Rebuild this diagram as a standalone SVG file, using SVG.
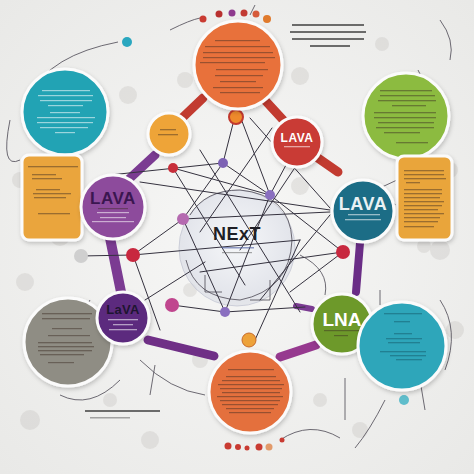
<svg xmlns="http://www.w3.org/2000/svg" width="474" height="474" viewBox="0 0 474 474">
<defs>
<radialGradient id="bg" cx="50%" cy="50%" r="70%"><stop offset="0" stop-color="#f7f7f6"/><stop offset="1" stop-color="#e9e9e7"/></radialGradient>
<radialGradient id="ctr" cx="50%" cy="45%" r="55%"><stop offset="0" stop-color="#f6f7f9"/><stop offset="0.8" stop-color="#e4e6ec"/><stop offset="1" stop-color="#d6d9e2" stop-opacity="0.5"/></radialGradient>
<filter id="sh" x="-20%" y="-20%" width="140%" height="140%"><feDropShadow dx="1" dy="2" stdDeviation="2" flood-color="#000" flood-opacity="0.2"/></filter>
</defs>
<style>
.node{stroke:#fbfbfb;stroke-width:3;filter:url(#sh)}
.net{stroke:#35323f;stroke-width:1;fill:none;stroke-linecap:round}
.thin{stroke:#4a4652;stroke-width:0.8;fill:none}
.bar{fill:none;stroke-linecap:round}
.tl{fill:#3a2a22;opacity:0.45}
.tw{fill:#fff;opacity:0.55}
.blob{fill:#b9b8b2;opacity:0.28}
.lbl{font-family:"Liberation Sans","DejaVu Sans",sans-serif;font-weight:bold;text-anchor:middle}
</style>
<rect width="474" height="474" fill="url(#bg)"/>
<g id="background-blobs">
<circle class="blob" cx="60" cy="236" r="10"/><circle class="blob" cx="25" cy="282" r="9"/><circle class="blob" cx="440" cy="250" r="10"/><circle class="blob" cx="424" cy="246" r="7"/>
<circle class="blob" cx="300" cy="76" r="9"/><circle class="blob" cx="185" cy="80" r="8"/><circle class="blob" cx="382" cy="44" r="7"/><circle class="blob" cx="300" cy="186" r="9"/>
<circle class="blob" cx="200" cy="360" r="8"/><circle class="blob" cx="450" cy="170" r="8"/><circle class="blob" cx="30" cy="420" r="10"/><circle class="blob" cx="455" cy="330" r="9"/>
<circle class="blob" cx="150" cy="440" r="9"/><circle class="blob" cx="360" cy="430" r="8"/><circle class="blob" cx="20" cy="180" r="8"/><circle class="blob" cx="128" cy="95" r="9"/>
<circle class="blob" cx="190" cy="290" r="7"/><circle class="blob" cx="320" cy="400" r="7"/><circle class="blob" cx="110" cy="400" r="7"/>
</g>
<g id="connectors">
<circle cx="237" cy="248" r="58" fill="url(#ctr)" stroke="#c4c7d3" stroke-width="0.8"/>
<path class="thin" d="M190 215 Q205 190 240 190 Q290 195 292 240 Q290 290 240 300 Q195 298 186 260"/>
<path class="thin" d="M205 275 L205 292 L222 292 M270 280 L270 300 L250 300"/>
<path class="bar" stroke="#c23b30" stroke-width="9" d="M203 98 L180 120"/>
<path class="bar" stroke="#c23b30" stroke-width="9" d="M262 97 L285 122"/>
<path class="bar" stroke="#c23b30" stroke-width="9" d="M315 156 L338 172"/>
<path class="bar" stroke="#7b3b92" stroke-width="9" d="M128 180 L155 155"/>
<path class="bar" stroke="#7b3b92" stroke-width="10" d="M110 238 L121 292"/>
<path class="bar" stroke="#6f2f86" stroke-width="9" d="M148 340 L214 356"/>
<path class="bar" stroke="#96398f" stroke-width="9" d="M280 357 L316 345"/>
<path class="bar" stroke="#6a2d86" stroke-width="8" d="M360 243 L356 292"/>
<path class="bar" stroke="#7b3b92" stroke-width="6" d="M296 306 L312 309"/>
<path class="net" d="M237 108 L223 163 M237 108 L270 195 M223 163 L183 219 M223 163 L270 195 M173 168 L270 195 M173 168 L245 285 M140 182 L330 210 M183 219 L330 212 M183 219 L133 255 M133 255 L81 256 M133 255 L300 240 M270 195 L343 252 M270 195 L225 312 M272 128 L200 232 M300 160 L240 250 M225 312 L172 305 M225 312 L305 307 M343 252 L290 292 M183 219 L225 312 M250 118 L330 208 M200 150 L300 312 M133 255 L160 330 M200 272 L343 252 M110 175 L223 163 M270 195 L310 120 M145 300 L205 262 M255 340 L300 240 M330 215 L260 300"/>
<path class="thin" d="M30 95 Q50 55 118 42 M10 120 Q0 170 20 160 M418 70 Q440 110 430 150 M90 300 Q65 340 85 380 M440 300 Q460 330 445 370 M170 30 Q190 20 200 18 M255 5 L250 15 M380 305 L380 290 M300 255 Q330 270 325 295 M60 395 Q90 410 120 380 M280 440 Q310 420 340 438 M385 400 Q370 430 355 448 M440 20 Q455 40 450 60 M420 380 L425 410 M345 378 L345 420 M140 360 Q170 390 205 395 M155 365 L150 395"/>
<path class="thin" stroke-width="1.2" d="M382 187 L397 180 M383 200 L397 205"/>
<rect x="46" y="144" width="5" height="8" fill="#223"/><rect x="65" y="144" width="5" height="8" fill="#223"/>
</g>
<g id="net-dots">
<circle cx="236" cy="117" r="7" fill="#ee8a2c" stroke="#c2382e" stroke-width="2"/>
<circle cx="173" cy="168" r="5" fill="#c72e3a"/>
<circle cx="223" cy="163" r="5" fill="#7d62b4"/>
<circle cx="183" cy="219" r="6" fill="#b56ab0"/>
<circle cx="270" cy="195" r="5" fill="#8a6fc0"/>
<circle cx="133" cy="255" r="7" fill="#c8283f"/>
<circle cx="81" cy="256" r="7" fill="#cfcfcf"/>
<circle cx="343" cy="252" r="7" fill="#c8283f"/>
<circle cx="225" cy="312" r="5" fill="#8a6fc0"/>
<circle cx="172" cy="305" r="7" fill="#c0468e"/>
<circle cx="249" cy="340" r="7" fill="#eda23a" stroke="#c86a2a" stroke-width="1"/>
<circle cx="127" cy="42" r="5" fill="#2aa7bf"/>
<circle cx="404" cy="400" r="5" fill="#3bb0c3" opacity="0.8"/>
</g>
<g id="top-dots">
<circle cx="203" cy="19" r="3.5" fill="#c93b32"/><circle cx="219" cy="14" r="3.5" fill="#b8302f"/><circle cx="232" cy="13" r="3.5" fill="#8e3a8e"/><circle cx="244" cy="13" r="3.5" fill="#c23a33"/><circle cx="256" cy="14" r="3.5" fill="#d65a3a"/><circle cx="267" cy="19" r="4" fill="#e07a2c"/>
</g>
<g id="bottom-dots">
<circle cx="228" cy="446" r="3.5" fill="#c93b32"/><circle cx="238" cy="447" r="3" fill="#c93b32"/><circle cx="247" cy="448" r="2.5" fill="#c93b32"/><circle cx="259" cy="447" r="3.5" fill="#c93b32"/><circle cx="269" cy="447" r="3.5" fill="#e29a6a"/><circle cx="282" cy="440" r="2.5" fill="#c93b32"/>
</g>
<g id="node-top-orange">
<circle class="node" cx="238" cy="65" r="44" fill="#e8713a"/>
<rect class="tl" x="215" y="40" width="45" height="1.2"/><rect class="tl" x="205" y="46" width="65" height="1.2"/><rect class="tl" x="203" y="52" width="70" height="1.2"/><rect class="tl" x="203" y="57" width="72" height="1.2"/><rect class="tl" x="200" y="62" width="65" height="1.2"/><rect class="tl" x="216" y="69" width="52" height="1.2"/><rect class="tl" x="215" y="75" width="48" height="1.2"/><rect class="tl" x="220" y="81" width="36" height="1.2"/><rect class="tl" x="213" y="87" width="50" height="1.2"/><rect class="tl" x="220" y="92" width="40" height="1.2"/>
</g>
<g id="text-top-right">
<rect x="292" y="24" width="72" height="2" fill="#333" opacity="0.7"/><rect x="290" y="31" width="76" height="2" fill="#333" opacity="0.7"/><rect x="292" y="38" width="72" height="2" fill="#333" opacity="0.7"/><rect x="310" y="45" width="40" height="2" fill="#333" opacity="0.7"/>
</g>
<g id="node-teal-left">
<circle class="node" cx="65" cy="112" r="43" fill="#22a3b4"/>
<rect class="tw" x="42" y="90" width="48" height="1.2" opacity="0.4"/><rect class="tw" x="38" y="95" width="55" height="1.2" opacity="0.4"/><rect class="tw" x="40" y="100" width="52" height="1.2" opacity="0.4"/><rect class="tw" x="48" y="105" width="35" height="1.2" opacity="0.4"/><rect class="tw" x="50" y="112" width="30" height="1.2" opacity="0.4"/><rect class="tw" x="37" y="117" width="58" height="1.2" opacity="0.4"/><rect class="tw" x="37" y="122" width="56" height="1.2" opacity="0.4"/><rect class="tw" x="40" y="127" width="48" height="1.2" opacity="0.4"/><rect class="tw" x="55" y="132" width="20" height="1.2" opacity="0.4"/>
</g>
<g id="node-green">
<circle class="node" cx="406" cy="116" r="43" fill="#8cbb3f"/>
<rect class="tl" x="380" y="90" width="52" height="1.3" opacity="0.6"/><rect class="tl" x="380" y="95" width="55" height="1.3" opacity="0.6"/><rect class="tl" x="378" y="100" width="58" height="1.3" opacity="0.6"/><rect class="tl" x="392" y="105" width="34" height="1.3" opacity="0.6"/><rect class="tl" x="374" y="112" width="62" height="1.3" opacity="0.6"/><rect class="tl" x="374" y="117" width="62" height="1.3" opacity="0.6"/><rect class="tl" x="378" y="122" width="56" height="1.3" opacity="0.6"/><rect class="tl" x="376" y="127" width="58" height="1.3" opacity="0.6"/><rect class="tl" x="384" y="132" width="36" height="1.3" opacity="0.6"/><rect class="tl" x="396" y="142" width="32" height="1.3" opacity="0.5"/>
</g>
<g id="node-small-orange">
<circle class="node" cx="169" cy="134" r="21" fill="#eea437"/>
<rect class="tl" x="160" y="129" width="16" height="1.3"/><rect class="tl" x="158" y="134" width="20" height="1.3"/>
</g>
<g id="node-red-lava">
<circle class="node" cx="297" cy="142" r="25" fill="#c93a35"/>
<text class="lbl" x="297" y="142" font-size="12" fill="#fff" font-weight="normal" letter-spacing="0.5">LAVA</text>
<rect class="tw" x="284" y="146" width="26" height="1.3"/>
</g>
<g id="node-orange-rect-left">
<rect class="node" x="22" y="155" width="60" height="85" rx="7" fill="#eaa53c"/>
<rect class="tl" x="28" y="166" width="50" height="1.3"/><rect class="tl" x="32" y="174" width="24" height="1.3"/><rect class="tl" x="32" y="178" width="30" height="1.3"/><rect class="tl" x="36" y="189" width="24" height="1.3"/><rect class="tl" x="33" y="193" width="38" height="1.3"/><rect class="tl" x="34" y="197" width="32" height="1.3"/><rect class="tl" x="38" y="213" width="32" height="1.3"/>
</g>
<g id="node-orange-rect-right">
<rect class="node" x="397" y="156" width="55" height="84" rx="7" fill="#e9a53b"/>
<rect class="tl" x="404" y="170" width="40" height="1.3"/><rect class="tl" x="404" y="174" width="40" height="1.3"/><rect class="tl" x="404" y="178" width="42" height="1.3"/><rect class="tl" x="406" y="182" width="14" height="1.3"/><rect class="tl" x="404" y="189" width="38" height="1.3" opacity="0.3"/><rect class="tl" x="404" y="193" width="38" height="1.3"/><rect class="tl" x="404" y="197" width="36" height="1.3"/><rect class="tl" x="404" y="201" width="40" height="1.3"/><rect class="tl" x="404" y="205" width="38" height="1.3"/><rect class="tl" x="404" y="209" width="34" height="1.3"/><rect class="tl" x="404" y="213" width="40" height="1.3"/><rect class="tl" x="404" y="217" width="36" height="1.3"/><rect class="tl" x="404" y="221" width="34" height="1.3"/><rect class="tl" x="404" y="226" width="30" height="1.3"/>
</g>
<g id="node-purple-lava">
<circle class="node" cx="113" cy="207" r="32" fill="#8d4c9c"/>
<text class="lbl" x="113" y="204" font-size="17" fill="#3b1650" letter-spacing="0.5">LAVA</text>
<rect class="tl" x="98" y="208" width="30" height="1.2" opacity="0.4"/><rect class="tw" x="97" y="212" width="32" height="1.2" opacity="0.45"/><rect class="tw" x="100" y="217" width="26" height="1.2" opacity="0.45"/><rect class="tw" x="92" y="221" width="42" height="1.2" opacity="0.35"/>
</g>
<g id="node-teal-lava">
<circle class="node" cx="363" cy="211" r="31" fill="#1d6d86"/>
<text class="lbl" x="363" y="210" font-size="18" fill="#e9f2f4" font-weight="normal" letter-spacing="0.5">LAVA</text>
<rect class="tw" x="348" y="214" width="32" height="1.3"/><rect class="tw" x="345" y="219" width="36" height="1.3" opacity="0.5"/>
</g>
<g id="node-center-next">
<text class="lbl" x="237" y="240" font-size="18" fill="#1f1f26" font-weight="normal" letter-spacing="0.5">NExT</text>
<rect x="222" y="247" width="32" height="1.5" fill="#4a5aa0" opacity="0.6"/><rect x="222" y="252" width="30" height="1.2" fill="#555" opacity="0.5"/>
</g>
<g id="node-gray">
<circle class="node" cx="68" cy="342" r="44" fill="#8f8d84"/>
<rect class="tl" x="42" y="313" width="50" height="1.3" opacity="0.6"/><rect class="tl" x="42" y="318" width="48" height="1.3" opacity="0.6"/><rect class="tl" x="52" y="328" width="30" height="1.2" opacity="0.45"/><rect class="tl" x="48" y="335" width="42" height="1.2" opacity="0.45"/><rect class="tl" x="38" y="342" width="54" height="1.3" opacity="0.6"/><rect class="tl" x="38" y="346" width="56" height="1.3" opacity="0.6"/><rect class="tl" x="38" y="350" width="54" height="1.3" opacity="0.6"/><rect class="tl" x="40" y="354" width="44" height="1.3" opacity="0.6"/><rect class="tl" x="48" y="362" width="26" height="1.2" opacity="0.45"/>
</g>
<g id="node-purple-lava-small">
<circle class="node" cx="123" cy="318" r="26" fill="#5b2b7e"/>
<text class="lbl" x="123" y="314" font-size="13" fill="#1e1530" letter-spacing="0.3">LaVA</text>
<rect class="tw" x="108" y="319" width="30" height="1.3"/><rect class="tw" x="113" y="324" width="20" height="1.3"/><rect class="tw" x="109" y="329" width="28" height="1.3"/>
</g>
<g id="node-olive-lna">
<circle class="node" cx="342" cy="324" r="30" fill="#6d992c"/>
<text class="lbl" x="342" y="326" font-size="19" fill="#fff" font-weight="normal">LNA</text>
<rect class="tl" x="324" y="330" width="36" height="1.2" opacity="0.5"/><rect class="tl" x="334" y="335" width="14" height="1.2" opacity="0.5"/>
</g>
<g id="node-teal-bottom">
<circle class="node" cx="402" cy="346" r="44" fill="#2ea6ba"/>
<rect x="384" y="313" width="38" height="1.3" fill="#145a6a" opacity="0.5"/><rect x="394" y="321" width="16" height="1.3" fill="#145a6a" opacity="0.5"/><rect x="394" y="333" width="18" height="1.3" fill="#145a6a" opacity="0.5"/><rect x="386" y="338" width="36" height="1.3" fill="#145a6a" opacity="0.5"/><rect x="388" y="342" width="32" height="1.3" fill="#145a6a" opacity="0.5"/><rect x="380" y="351" width="46" height="1.3" fill="#145a6a" opacity="0.5"/><rect x="390" y="355" width="36" height="1.3" fill="#145a6a" opacity="0.5"/><rect x="396" y="359" width="26" height="1.3" fill="#145a6a" opacity="0.5"/>
</g>
<g id="node-bottom-orange">
<circle class="node" cx="250" cy="392" r="41" fill="#e46f3d"/>
<rect class="tl" x="228" y="369" width="46" height="1.2"/><rect class="tl" x="226" y="376" width="50" height="1.2"/><rect class="tl" x="222" y="380" width="58" height="1.2"/><rect class="tl" x="218" y="384" width="66" height="1.2"/><rect class="tl" x="220" y="388" width="62" height="1.2"/><rect class="tl" x="222" y="392" width="58" height="1.2"/><rect class="tl" x="217" y="396" width="66" height="1.2"/><rect class="tl" x="220" y="400" width="60" height="1.2"/><rect class="tl" x="222" y="404" width="56" height="1.2"/><rect class="tl" x="226" y="408" width="48" height="1.2"/><rect class="tl" x="229" y="412" width="42" height="1.2"/>
</g>
<g id="text-bottom-left">
<rect x="85" y="410" width="75" height="2" fill="#333" opacity="0.7"/><rect x="90" y="417" width="40" height="1.5" fill="#555" opacity="0.5"/>
</g>
</svg>
